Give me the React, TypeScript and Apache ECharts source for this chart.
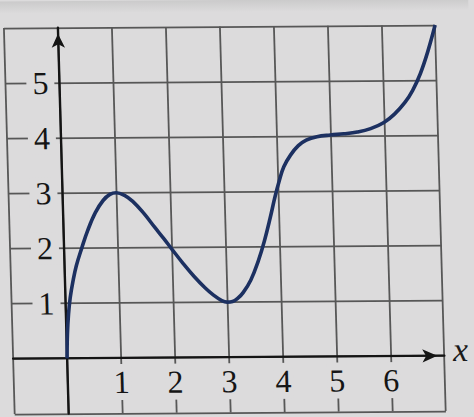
import React, { useEffect, useRef } from "react";
import * as echarts from "echarts";

// Curve (x, y)
const curveX = [0, 0.02, 0.05, 0.09, 0.15, 0.22, 0.33, 0.45, 0.6, 0.75, 0.88, 1.0, 1.15, 1.3, 1.5, 1.7, 1.85, 2.0, 2.2, 2.4, 2.6, 2.75, 2.9, 3.0, 3.1, 3.2, 3.3, 3.45, 3.6, 3.72, 3.84, 3.94, 4.03, 4.12, 4.25, 4.4, 4.55, 4.75, 5.0, 5.25, 5.5, 5.75, 6.0, 6.2, 6.4, 6.55, 6.7, 6.85, 7.0];
const curveY = [0, 0.45, 0.8, 1.1, 1.4, 1.68, 2.0, 2.32, 2.64, 2.86, 2.97, 3.0, 2.95, 2.84, 2.62, 2.36, 2.17, 1.97, 1.71, 1.47, 1.26, 1.13, 1.03, 1.0, 1.01, 1.07, 1.17, 1.4, 1.75, 2.1, 2.52, 2.9, 3.2, 3.45, 3.66, 3.83, 3.93, 3.99, 4.02, 4.04, 4.07, 4.13, 4.24, 4.39, 4.6, 4.82, 5.12, 5.52, 6.0];

const xTickLabels = [1, 2, 3, 4, 5, 6];
const yTickLabels = [1, 2, 3, 4, 5];
const xRange = [-1, 7];
const yRange = [-1, 6];

const PAPER = "#dcdbdc";
const FONT = "'Liberation Serif', 'Times New Roman', serif";

const GRID_LEFT = 9;
const GRID_RIGHT = 33.8;
const GRID_TOP = 26.5;
const GRID_BOTTOM = 4.7;

export default function App() {
  const ref = useRef<HTMLDivElement>(null);

  useEffect(() => {
    document.body.style.margin = "0";
    document.body.style.background = PAPER;
    const chart = echarts.init(ref.current!, null, { renderer: "svg" });
    const plotW = 474 - GRID_LEFT - GRID_RIGHT;
    const plotH = 417 - GRID_TOP - GRID_BOTTOM;
    const xUnitPx = plotW / (xRange[1] - xRange[0]);
    const yUnitPx = plotH / (yRange[1] - yRange[0]);
    const option: any = {
      animation: false,
      backgroundColor: "transparent",
      grid: {
        left: GRID_LEFT,
        right: GRID_RIGHT,
        top: GRID_TOP,
        bottom: GRID_BOTTOM,
        containLabel: false,
        outerBoundsMode: "none",
      },
      xAxis: {
        type: "value",
        position: "bottom",
        offset: -(0 - yRange[0]) * yUnitPx,
        min: xRange[0],
        max: xRange[1],
        interval: 1,
        axisLine: {
          onZero: false,
          symbol: ["none", "arrow"],
          symbolSize: [10, 15],
          symbolOffset: [0, -7],
          lineStyle: { color: "#141414", width: 2.4 },
        },
        axisTick: { show: false },
        splitLine: { show: true, lineStyle: { color: "#575757", width: 1.8 } },
        axisLabel: {
          margin: 10,
          formatter: (v: number) => (xTickLabels.includes(v) ? `{m|${v}}` : ""),
          rich: {
            m: {
              fontFamily: FONT,
              fontSize: 32,
              color: "#151515",
              lineHeight: 28,
              padding: [2, 2],
              backgroundColor: PAPER,
            },
          },
        },
      },
      yAxis: {
        type: "value",
        position: "left",
        offset: -(0 - xRange[0]) * xUnitPx,
        min: yRange[0],
        max: yRange[1],
        interval: 1,
        axisLine: {
          onZero: false,
          symbol: ["none", "arrow"],
          symbolSize: [10, 14],
          symbolOffset: [0, -6],
          lineStyle: { color: "#141414", width: 2.4 },
        },
        axisTick: { show: false },
        splitLine: { show: true, lineStyle: { color: "#575757", width: 1.8 } },
        axisLabel: {
          margin: 5,
          formatter: (v: number) => (yTickLabels.includes(v) ? `{m|${v}}` : ""),
          rich: {
            m: {
              fontFamily: FONT,
              fontSize: 32,
              color: "#151515",
              lineHeight: 28,
              padding: [0, 6],
              backgroundColor: PAPER,
            },
          },
        },
      },
      graphic: [
        {
          type: "rect",
          z: -10,
          shape: { x: -30, y: -6, width: 540, height: 18 },
          style: {
            fill: new echarts.graphic.LinearGradient(0, 0, 0, 1, [
              { offset: 0, color: "#c2c2c2" },
              { offset: 1, color: PAPER },
            ]),
          },
        },
        {
          type: "text",
          x: 449,
          y: 351,
          style: {
            text: "x",
            font: `italic 34px ${FONT}`,
            fill: "#1a1a1a",
            verticalAlign: "middle",
            align: "left",
          },
        },
      ],
      series: [
        {
          type: "line",
          data: curveX.map((x, i) => [x, curveY[i]]),
          showSymbol: false,
          smooth: 0.4,
          clip: false,
          lineStyle: { color: "#1c3061", width: 3.6 },
          z: 5,
        },
      ],
    };
    chart.setOption(option);
    return () => chart.dispose();
  }, []);

  return (
    <div
      ref={ref}
      style={{
        position: "absolute",
        left: 0,
        top: 0,
        width: 474,
        height: 417,
        transform: "skew(1.6deg, -0.4deg)",
      }}
    />
  );
}
